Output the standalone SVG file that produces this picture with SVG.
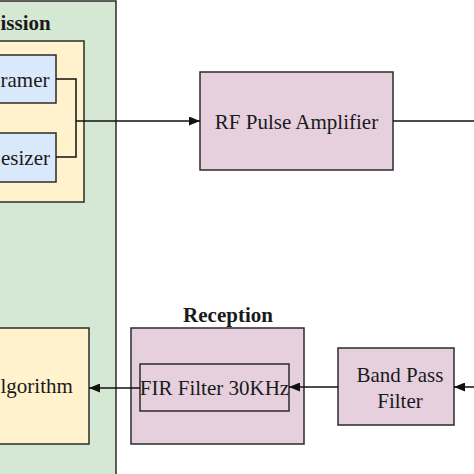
<svg xmlns="http://www.w3.org/2000/svg" width="474" height="474" viewBox="0 0 474 474">
<style>
.box{stroke:#2b2b2b;stroke-width:1.5}
.green{fill:#d5e8d4}
.yellow{fill:#fff2cc}
.blue{fill:#dae8fc}
.pink{fill:#e6d0de}
.t{font-family:"Liberation Serif","Times New Roman",serif;font-size:21px;fill:#1a1a1a}
.b{font-weight:bold}
.c{fill:none;stroke:#111;stroke-width:1.5}
</style>
<defs>
<marker id="ah" markerWidth="11" markerHeight="9" refX="11" refY="4.5" orient="auto" markerUnits="userSpaceOnUse">
<path d="M0,0 L11,4.5 L0,9 Z" fill="#111"/>
</marker>
</defs>
<rect width="474" height="474" fill="#fff"/>
<g id="transmission">
<rect class="box green" x="-20" y="1" width="136" height="490"/>
<text class="t b" x="0.5" y="30" font-size="20">ission</text>
</g>
<g id="tx-inner">
<rect class="box yellow" x="-20" y="41" width="104" height="161"/>
</g>
<g id="framer">
<rect class="box blue" x="-20" y="55" width="76" height="48"/>
<text class="t" x="0.5" y="87">ramer</text>
</g>
<g id="synthesizer">
<rect class="box blue" x="-20" y="133" width="76" height="49"/>
<text class="t" x="1" y="165">esizer</text>
</g>
<g id="algorithm">
<rect class="box yellow" x="-20" y="328" width="109" height="116"/>
<text class="t" x="0.5" y="393">lgorithm</text>
</g>
<g id="rf-amp">
<rect class="box pink" x="200" y="72" width="193" height="98"/>
<text class="t" x="296.5" y="129" text-anchor="middle" font-size="22">RF Pulse Amplifier</text>
</g>
<g id="reception">
<rect class="box pink" x="131" y="328" width="173" height="116"/>
<text class="t b" x="228" y="322" text-anchor="middle">Reception</text>
</g>
<g id="fir">
<rect class="box pink" x="140" y="364" width="149" height="47"/>
<text class="t" x="214.5" y="395" text-anchor="middle" font-size="19.5">FIR Filter 30KHz</text>
</g>
<g id="bpf">
<rect class="box pink" x="338" y="348" width="116" height="77"/>
<text class="t" x="400" y="382" text-anchor="middle" font-size="22">Band Pass</text>
<text class="t" x="400" y="408" text-anchor="middle" font-size="22">Filter</text>
</g>
<g id="connectors">
<path class="c" d="M56,79 H76 V157 H56"/>
<path class="c" d="M76,121 H200" marker-end="url(#ah)"/>
<path class="c" d="M393,121 H474"/>
<path class="c" d="M474,387 H454" marker-end="url(#ah)"/>
<path class="c" d="M338,387 H289" marker-end="url(#ah)"/>
<path class="c" d="M140,388 H89" marker-end="url(#ah)"/>
</g>
</svg>
